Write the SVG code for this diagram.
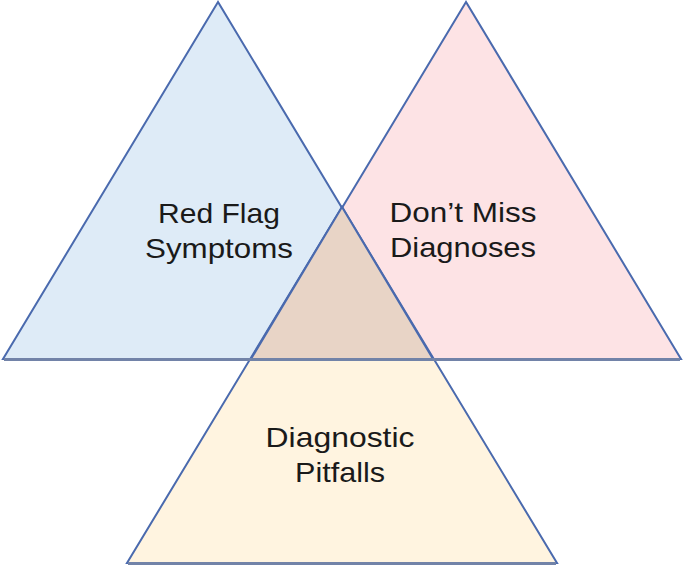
<svg xmlns="http://www.w3.org/2000/svg" width="685" height="569" viewBox="0 0 685 569">
<style>
.tri{stroke:#4a6aae;stroke-width:2;stroke-linejoin:miter}
.base{stroke:#7283a8;stroke-width:3}
.lbl{font-family:"Liberation Sans",Arial,sans-serif;font-size:28px;fill:#1a1a1a;text-anchor:middle}
</style>
<rect width="685" height="569" fill="#ffffff"/>
<g id="red-flag-symptoms">
<polygon class="tri" points="218,2 3,359 433,359" fill="#deebf7"/>
</g>
<g id="dont-miss-diagnoses">
<polygon class="tri" points="466,2 251,359 681,359" fill="#fde3e5"/>
</g>
<g id="diagnostic-pitfalls">
<polygon class="tri" points="342,207 127,563 557,563" fill="#fff4e0"/>
</g>
<g id="overlap">
<polygon class="tri" points="342,207 251,359 433,359" fill="#e8d4c6"/>
</g>
<g id="base-lines">
<line class="base" x1="4" y1="359.5" x2="680" y2="359.5"/>
<line class="base" x1="128" y1="563.5" x2="556" y2="563.5"/>
</g>
<g id="labels">
<text class="lbl" x="219" y="223" textLength="122" lengthAdjust="spacingAndGlyphs">Red Flag</text>
<text class="lbl" x="219" y="258" textLength="148" lengthAdjust="spacingAndGlyphs">Symptoms</text>
<text class="lbl" x="463" y="222" textLength="147" lengthAdjust="spacingAndGlyphs">Don’t Miss</text>
<text class="lbl" x="463" y="257" textLength="146" lengthAdjust="spacingAndGlyphs">Diagnoses</text>
<text class="lbl" x="340" y="447" textLength="149" lengthAdjust="spacingAndGlyphs">Diagnostic</text>
<text class="lbl" x="340" y="482" textLength="90" lengthAdjust="spacingAndGlyphs">Pitfalls</text>
</g>
</svg>
